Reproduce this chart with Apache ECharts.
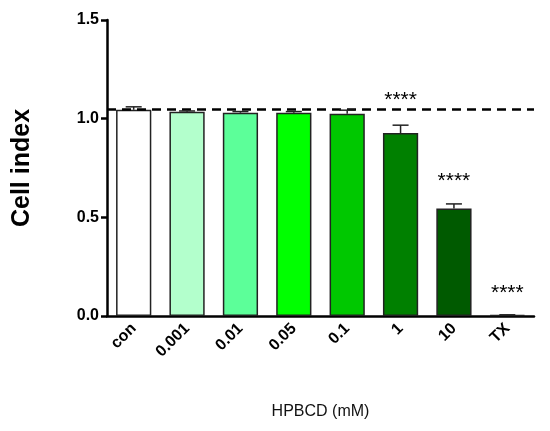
<!DOCTYPE html><html><head><meta charset="utf-8"><script src="https://cdn.jsdelivr.net/npm/echarts@6/dist/echarts.min.js"></script>
<style>body{margin:0}#c{width:550px;height:431px}</style></head><body><div id="c"></div><script>
const categories=['con','0.001','0.01','0.05','0.1','1','10','TX'];
const values=[1.045,1.035,1.03,1.03,1.025,0.927,0.545,0.004];
const errors=[0.015,0.004,0.006,0.006,0.018,0.04,0.023,0.002];
const colors=['#ffffff','#b3ffcc','#5cff99','#00ff00','#00c800','#008000','#005a00','#003a00'];
const stars=['','','','','','****','****','****'];
const starY=[0,0,0,0,0,1.11,0.7,0.13];
const refLine=1.048;
const yTicks=[0,0.5,1.0,1.5];
const chart=echarts.init(document.getElementById('c'));
const F='Liberation Sans, Arial, sans-serif';
chart.setOption({animation:false,
grid:{left:107,right:16,top:20,bottom:115},
xAxis:{type:'category',data:categories,name:'HPBCD (mM)',nameLocation:'middle',nameGap:88,
nameTextStyle:{fontSize:16,color:'#111',fontFamily:F},
axisLine:{lineStyle:{color:'#000',width:2.5}},axisTick:{alignWithLabel:true,length:6,lineStyle:{width:2.5,color:'#000'}},
axisLabel:{rotate:45,fontWeight:'bold',fontSize:16,color:'#000',fontFamily:F,margin:10}},
yAxis:{type:'value',min:0,max:1.5,interval:0.5,name:'Cell index',nameLocation:'middle',nameGap:72,
nameTextStyle:{fontSize:25,fontWeight:'bold',color:'#000',fontFamily:F},
axisLine:{show:true,lineStyle:{color:'#000',width:2.5}},axisTick:{show:true,length:6,lineStyle:{width:2.5,color:'#000'}},
splitLine:{show:false},
axisLabel:{fontWeight:'bold',fontSize:16,color:'#000',fontFamily:F,formatter:v=>v.toFixed(1)}},
series:[{type:'bar',barWidth:'66%',
data:values.map((v,i)=>({value:v,itemStyle:{color:colors[i],borderColor:'#222',borderWidth:1.5}})),
markLine:{symbol:'none',silent:true,label:{show:false},lineStyle:{type:[9,6],color:'#000',width:2.5},data:[{yAxis:refLine}]}},
{type:'custom',data:values.map((v,i)=>[i,v,errors[i]]),z:5,
renderItem:(p,api)=>{const x=api.coord([api.value(0),api.value(1)]);const t=api.coord([api.value(0),api.value(1)+api.value(2)]);
return {type:'group',children:[{type:'line',shape:{x1:x[0],y1:x[1],x2:t[0],y2:t[1]},style:{stroke:'#222',lineWidth:1.5}},
{type:'line',shape:{x1:t[0]-8,y1:t[1],x2:t[0]+8,y2:t[1]},style:{stroke:'#222',lineWidth:1.5}}]};}},
{type:'custom',data:stars.map((s,i)=>[i,starY[i],s]),z:6,
renderItem:(p,api)=>{const c=api.coord([api.value(0),api.value(1)]);
return {type:'text',style:{text:stars[p.dataIndex],x:c[0],y:c[1]+3,align:'center',verticalAlign:'middle',fontSize:21,fill:'#000',fontFamily:F}};}}
]});
</script></body></html>
